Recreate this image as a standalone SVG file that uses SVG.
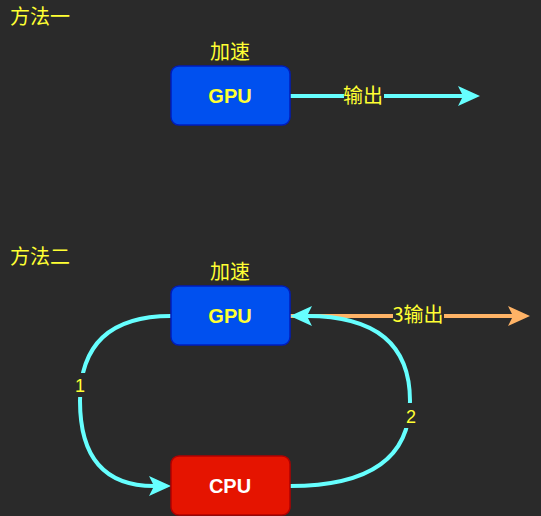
<svg xmlns="http://www.w3.org/2000/svg" width="541" height="516" viewBox="0 0 541 516">
<style>
.t{font-family:"Noto Sans CJK SC","Liberation Sans",sans-serif;font-size:20px;fill:#ffff33}
.n{font-family:"Liberation Sans","Noto Sans CJK SC",sans-serif;font-size:20px;font-weight:bold;text-anchor:middle}
.d{font-family:"Liberation Sans",sans-serif;font-size:18px;fill:#ffff33;text-anchor:middle}
.gpu{fill:#0050ef;stroke:#001dbc;stroke-width:1.5}
.cpu{fill:#e51400;stroke:#b20000;stroke-width:1.5}
.e{fill:none;stroke-width:4}
.bg{fill:#2a2a2a}
</style>
<defs>
<marker id="ac" markerUnits="userSpaceOnUse" markerWidth="24" markerHeight="22" viewBox="0 0 24 22" refX="5" refY="11" orient="auto"><path d="M22,11 L0,1 L5,11 L0,21 Z" fill="#66ffff"/></marker>
<marker id="ao" markerUnits="userSpaceOnUse" markerWidth="24" markerHeight="22" viewBox="0 0 24 22" refX="5" refY="11" orient="auto"><path d="M22,11 L0,1 L5,11 L0,21 Z" fill="#ffb366"/></marker>
</defs>
<rect width="541" height="516" fill="#2a2a2a"/>
<text class="t" x="10" y="24">方法一</text>
<text class="t" x="10" y="264">方法二</text>
<g id="connectors">
<path class="e" stroke="#66ffff" d="M290,96 L463,96" marker-end="url(#ac)"/>
<rect class="bg" x="344" y="86" width="40" height="20"/>
<text class="t" x="363" y="103" text-anchor="middle">输出</text>
<path class="e" stroke="#ffb366" d="M290,316 L513,316" marker-end="url(#ao)"/>
<path class="e" stroke="#66ffff" d="M171,316 Q80,316 80,401 Q80,486 154,486" marker-end="url(#ac)"/>
<path class="e" stroke="#66ffff" d="M290,486 Q410,486 410,401 Q410,316 307,316" marker-end="url(#ac)"/>
<rect class="bg" x="393" y="306" width="51" height="20"/>
<text class="t" x="418" y="322" text-anchor="middle">3输出</text>
<rect class="bg" x="70" y="373" width="20" height="24"/>
<text class="d" x="80" y="392">1</text>
<rect class="bg" x="400" y="403" width="20" height="25"/>
<text class="d" x="411" y="423">2</text>
</g>
<g id="gpu1">
<text class="t" x="230" y="59" text-anchor="middle">加速</text>
<rect class="gpu" x="171" y="66" width="119" height="59" rx="8"/>
<text class="n" x="230" y="103" fill="#ffff33">GPU</text>
</g>
<g id="gpu2">
<text class="t" x="230" y="279" text-anchor="middle">加速</text>
<rect class="gpu" x="171" y="286" width="119" height="59" rx="8"/>
<text class="n" x="230" y="323" fill="#ffff33">GPU</text>
</g>
<g id="cpu">
<rect class="cpu" x="171" y="456" width="119" height="59" rx="8"/>
<text class="n" x="230" y="493" fill="#ffffff">CPU</text>
</g>
</svg>
